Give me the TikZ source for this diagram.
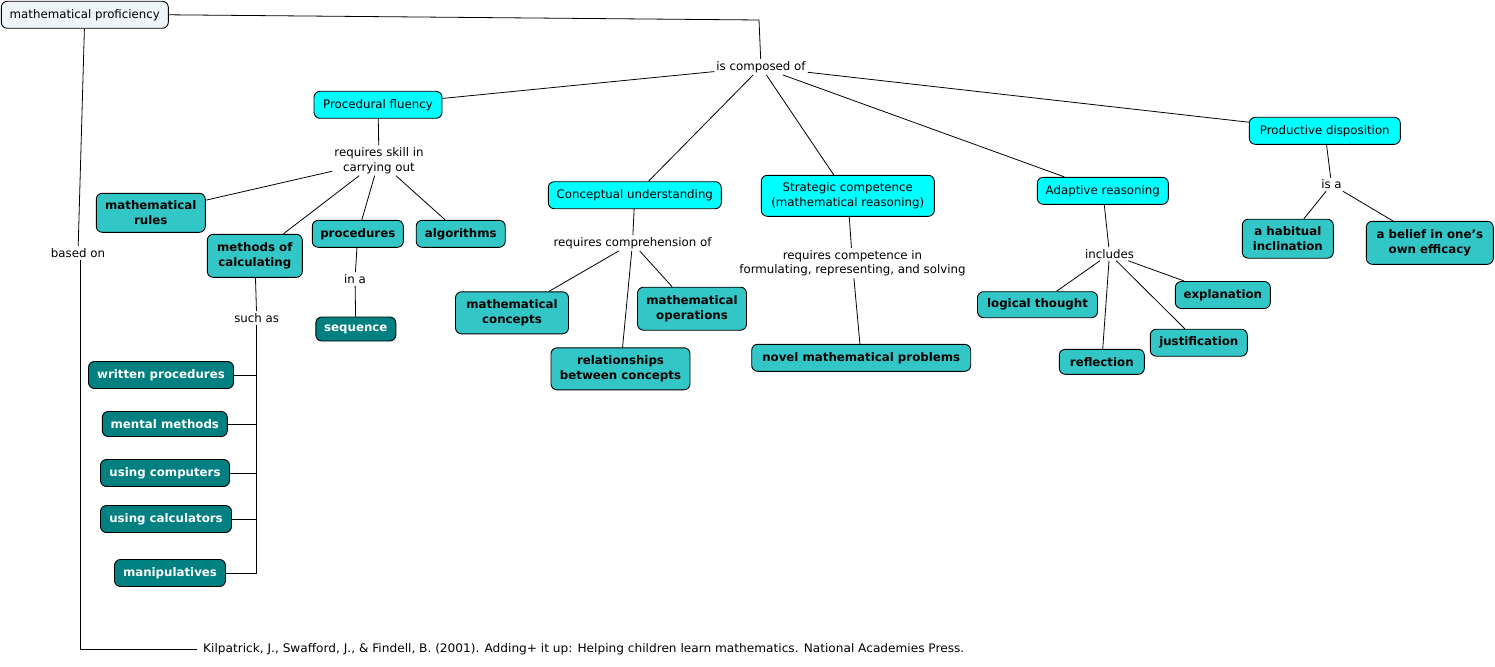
\documentclass[tikz,border=0pt]{standalone}
\usepackage{fontspec}
\setmainfont{DejaVu Sans}
\definecolor{mpfill}{RGB}{238,245,248}
\definecolor{cyanc}{RGB}{0,255,255}
\definecolor{medc}{RGB}{51,198,198}
\definecolor{darkc}{RGB}{0,128,128}
\begin{document}
\begin{tikzpicture}[x=1pt,y=-1pt,
  base/.style={draw=black, line width=0.9pt, rounded corners=6pt, inner sep=2pt, align=center, font=\fontsize{11.8}{14.5}\selectfont},
  sz/.style 2 args={minimum width=#1, minimum height=#2},
  topbox/.style={base, fill=mpfill},
  cbox/.style={base, fill=cyanc},
  mbox/.style={base, fill=medc, font=\fontsize{11.8}{14.5}\selectfont\bfseries},
  dbox/.style={base, fill=darkc, text=white, font=\fontsize{11.8}{14.5}\selectfont\bfseries},
  lbl/.style={inner sep=2pt, align=center, font=\fontsize{11.8}{14.5}\selectfont},
  conn/.style={line width=0.8pt, draw=black}
]
\useasboundingbox (0,0) rectangle (1495,666);

% main concepts
\node[topbox, sz={167}{27}] (mp) at (84.8,14.8) {mathematical proficiency};
\node[cbox, sz={128}{27}] (pf) at (378,104.8) {Procedural fluency};
\node[cbox, sz={173}{27}] (cu) at (634.8,195.2) {Conceptual understanding};
\node[cbox, sz={173}{41}] (sc) at (847.8,195.8) {Strategic competence\\(mathematical reasoning)};
\node[cbox, sz={131}{27}] (ar) at (1102.8,190.8) {Adaptive reasoning};
\node[cbox, sz={151}{27}] (pd) at (1324.8,130.8) {Productive disposition};

% procedural fluency children
\node[mbox, sz={109}{39}] (mr) at (150.8,212.8) {mathematical\\rules};
\node[mbox, sz={95}{43}] (moc) at (254.8,255.8) {methods of\\calculating};
\node[mbox, sz={91}{27}] (proc) at (357.8,233.8) {procedures};
\node[mbox, sz={89}{27}] (alg) at (460.7,233.8) {algorithms};
\node[dbox, sz={80}{24}] (seq) at (355.8,329) {sequence};
\node[dbox, sz={145}{27}] (wp) at (161,375) {written procedures};
\node[dbox, sz={125}{25}] (mm) at (164.8,424) {mental methods};
\node[dbox, sz={129}{27}] (uc) at (165,473) {using computers};
\node[dbox, sz={131}{27}] (ucal) at (166,519) {using calculators};
\node[dbox, sz={111}{27}] (man) at (170,573) {manipulatives};

% conceptual understanding children
\node[mbox, sz={113}{42}] (mc) at (512,312.8) {mathematical\\concepts};
\node[mbox, sz={109}{43}] (mo) at (692,308.7) {mathematical\\operations};
\node[mbox, sz={139}{42}] (rel) at (620.5,368.8) {relationships\\between concepts};

% strategic competence child
\node[mbox, sz={219}{27}] (nov) at (861.2,357.8) {novel mathematical problems};

% adaptive reasoning children
\node[mbox, sz={120}{26}] (lt) at (1037.5,304.7) {logical thought};
\node[mbox, sz={85}{25}] (refl) at (1101.8,361.8) {reflection};
\node[mbox, sz={97}{27}] (jus) at (1198.8,342.7) {justification};
\node[mbox, sz={95}{27}] (expl) at (1222.8,295) {explanation};

% productive disposition children
\node[mbox, sz={91}{39}] (hab) at (1287.8,238.7) {a habitual\\inclination};
\node[mbox, sz={127}{43}] (bel) at (1429.8,242.8) {a belief in one’s\\own efficacy};

% linking phrases
\node[lbl] (ico) at (761,67) {is composed of};
\node[lbl] (rsk) at (379,160.5) {requires skill in\\carrying out};
\node[lbl] (based) at (78,253) {based on};
\node[lbl] (ina) at (355,279) {in a};
\node[lbl] (such) at (256.7,318) {such as};
\node[lbl] (rco) at (632.5,243) {requires comprehension of};
\node[lbl] (rcp) at (852.5,263) {requires competence in\\formulating, representing, and solving};
\node[lbl] (inc) at (1109.5,254) {includes};
\node[lbl] (isa) at (1331.5,184.5) {is a};
\node[lbl, anchor=west, inner sep=0pt, inner xsep=6pt] (cite) at (197,649)
  {\resizebox{761pt}{\height}{Kilpatrick, J., Swafford, J., \& Findell, B. (2001). Adding+ it up: Helping children learn mathematics. National Academies Press.}};

\coordinate (bend) at (759,20);

% connectors
\draw[conn] (mp.east) -- (bend) -- (ico);
\draw[conn] (ico) -- (pf);
\draw[conn] (ico) -- (cu);
\draw[conn] (ico) -- (sc);
\draw[conn] (ico) -- (ar);
\draw[conn] (ico) -- (pd);

\draw[conn] (pf) -- (rsk);
\draw[conn] (rsk) -- (mr);
\draw[conn] (rsk) -- (moc);
\draw[conn] (rsk) -- (proc);
\draw[conn] (rsk) -- (alg);
\draw[conn] (proc) -- (ina);
\draw[conn] (ina) -- (seq);
\draw[conn] (moc) -- (such);
\draw[conn] (such.south) |- (wp.east);
\draw[conn] (such.south) |- (mm.east);
\draw[conn] (such.south) |- (uc.east);
\draw[conn] (such.south) |- (ucal.east);
\draw[conn] (such.south) |- (man.east);

\draw[conn] (cu) -- (rco);
\draw[conn] (rco) -- (mc);
\draw[conn] (rco) -- (rel);
\draw[conn] (rco) -- (mo);

\draw[conn] (sc) -- (rcp);
\draw[conn] (rcp) -- (nov);

\draw[conn] (ar) -- (inc);
\draw[conn] (inc) -- (lt);
\draw[conn] (inc) -- (refl);
\draw[conn] (inc) -- (jus);
\draw[conn] (inc) -- (expl);

\draw[conn] (pd) -- (isa);
\draw[conn] (isa) -- (hab);
\draw[conn] (isa) -- (bel);

\draw[conn] (mp) -- (based);
\draw[conn] (based.south) ++(2.7,0) |- (cite.west);
\end{tikzpicture}
\end{document}
